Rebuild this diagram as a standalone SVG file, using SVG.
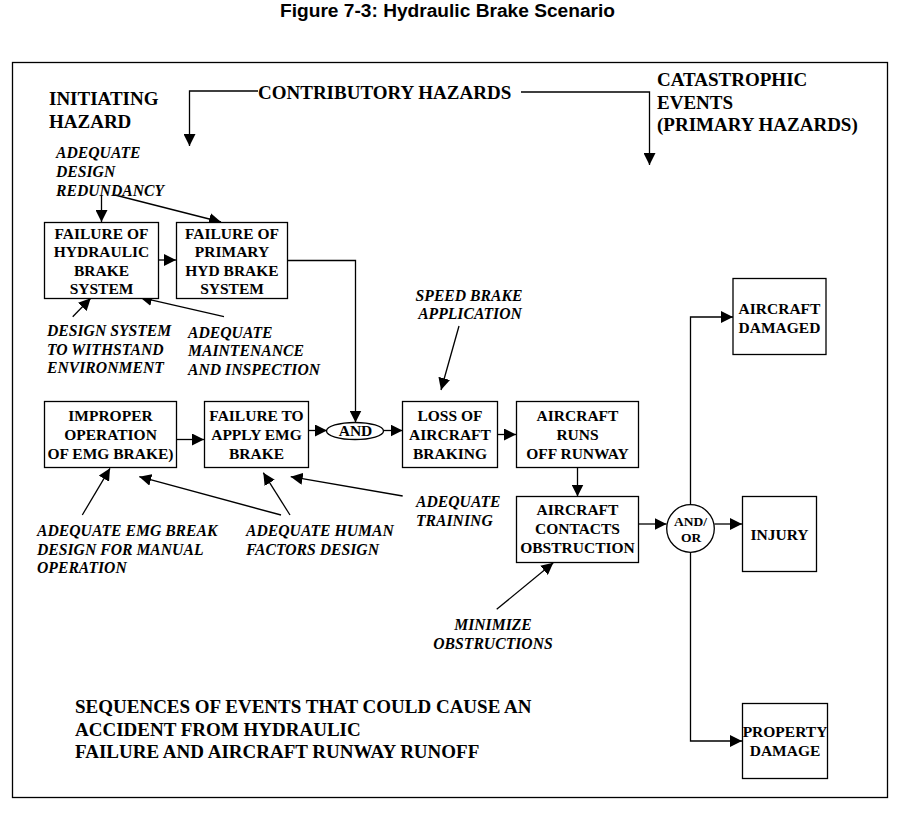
<svg xmlns="http://www.w3.org/2000/svg" width="908" height="814" viewBox="0 0 908 814">
<style>
.t{font-family:"Liberation Serif","Times New Roman",serif;font-weight:bold;fill:#000}
.b{font-size:15.5px;text-anchor:middle}
.h{font-size:19px}
.i{font-size:15.7px;font-style:italic}
.box{fill:#fff;stroke:#000;stroke-width:1.3}
.ln{fill:none;stroke:#000;stroke-width:1.3}
</style>
<defs>
<marker id="ah" markerUnits="userSpaceOnUse" markerWidth="12" markerHeight="12" refX="12" refY="6" orient="auto">
<path d="M0,0 L12,6 L0,12 z" fill="#000"/>
</marker>
</defs>
<rect width="908" height="814" fill="#fff"/>
<text x="447.5" y="17" text-anchor="middle" font-family="'Liberation Sans',Arial,sans-serif" font-weight="bold" font-size="17.5" textLength="335" lengthAdjust="spacingAndGlyphs">Figure 7-3: Hydraulic Brake Scenario</text>
<rect x="12.5" y="62.5" width="875" height="735" class="ln"/>

<g id="headings" class="t h">
<text x="49" y="105">INITIATING</text>
<text x="49" y="127.5">HAZARD</text>
<text x="258" y="99">CONTRIBUTORY HAZARDS</text>
<text x="657" y="86">CATASTROPHIC</text>
<text x="657" y="108.5">EVENTS</text>
<text x="657" y="131">(PRIMARY HAZARDS)</text>
<text x="75" y="713">SEQUENCES OF EVENTS THAT COULD CAUSE AN</text>
<text x="75" y="735.5">ACCIDENT FROM HYDRAULIC</text>
<text x="75" y="758">FAILURE AND AIRCRAFT RUNWAY RUNOFF</text>
</g>

<g id="labels" class="t i">
<text x="56" y="158">ADEQUATE</text>
<text x="56" y="177">DESIGN</text>
<text x="56" y="196">REDUNDANCY</text>
<text x="47" y="336">DESIGN SYSTEM</text>
<text x="47" y="354.5">TO WITHSTAND</text>
<text x="47" y="373">ENVIRONMENT</text>
<text x="188" y="337.5">ADEQUATE</text>
<text x="188" y="356">MAINTENANCE</text>
<text x="188" y="374.5">AND INSPECTION</text>
<text x="469" y="300.5" text-anchor="middle">SPEED BRAKE</text>
<text x="470" y="319" text-anchor="middle">APPLICATION</text>
<text x="37" y="536">ADEQUATE EMG BREAK</text>
<text x="37" y="554.5">DESIGN FOR MANUAL</text>
<text x="37" y="573">OPERATION</text>
<text x="246" y="536">ADEQUATE HUMAN</text>
<text x="246" y="554.5">FACTORS DESIGN</text>
<text x="416" y="507">ADEQUATE</text>
<text x="416" y="525.5">TRAINING</text>
<text x="493" y="630" text-anchor="middle">MINIMIZE</text>
<text x="493" y="648.5" text-anchor="middle">OBSTRUCTIONS</text>
</g>

<g id="connectors" class="ln">
<path d="M258,91 H189.5 V146" marker-end="url(#ah)"/>
<path d="M521,92 H649.5 V165" marker-end="url(#ah)"/>
<path d="M101.5,195 V222" marker-end="url(#ah)"/>
<path d="M115,195 L221,222" marker-end="url(#ah)"/>
<path d="M158,260 H176" marker-end="url(#ah)"/>
<path d="M72.7,316.7 L90.7,298.3" marker-end="url(#ah)"/>
<path d="M224,316.7 L140,297.3" marker-end="url(#ah)"/>
<path d="M287,260.5 H355.5 V422.5" marker-end="url(#ah)"/>
<path d="M459,326 L441,390" marker-end="url(#ah)"/>
<path d="M177,439.5 H204" marker-end="url(#ah)"/>
<path d="M308,430.5 H327" marker-end="url(#ah)"/>
<path d="M383.5,430.5 H402.5" marker-end="url(#ah)"/>
<path d="M497,434.5 H516" marker-end="url(#ah)"/>
<path d="M577.5,467 V496.5" marker-end="url(#ah)"/>
<path d="M82.3,515 L110,468.3" marker-end="url(#ah)"/>
<path d="M281,515 L139.3,476.7" marker-end="url(#ah)"/>
<path d="M290,515 L263.3,472.7" marker-end="url(#ah)"/>
<path d="M402.7,496 L290.7,476.7" marker-end="url(#ah)"/>
<path d="M496.7,609.3 L553.3,562.7" marker-end="url(#ah)"/>
<path d="M638,524 H666.5" marker-end="url(#ah)"/>
<path d="M714.5,524 H742" marker-end="url(#ah)"/>
<path d="M690.5,505 V317 H733" marker-end="url(#ah)"/>
<path d="M690.5,552.5 V741 H742" marker-end="url(#ah)"/>
</g>

<g id="n-hyd" class="t b">
<rect class="box" x="44.5" y="222.5" width="114" height="76"/>
<text x="101.5" y="238.5">FAILURE OF</text>
<text x="101.5" y="257">HYDRAULIC</text>
<text x="101.5" y="275.5">BRAKE</text>
<text x="101.5" y="294">SYSTEM</text>
</g>
<g id="n-primary" class="t b">
<rect class="box" x="176.5" y="222.5" width="111" height="76"/>
<text x="232" y="238.5">FAILURE OF</text>
<text x="232" y="257">PRIMARY</text>
<text x="232" y="275.5">HYD BRAKE</text>
<text x="232" y="294">SYSTEM</text>
</g>
<g id="n-improper" class="t b">
<rect class="box" x="44.5" y="401.5" width="132" height="66"/>
<text x="110.5" y="421">IMPROPER</text>
<text x="110.5" y="440">OPERATION</text>
<text x="110.5" y="458.5">OF EMG BRAKE)</text>
</g>
<g id="n-failapply" class="t b">
<rect class="box" x="204.5" y="401.5" width="104" height="66"/>
<text x="256.5" y="421">FAILURE TO</text>
<text x="256.5" y="440">APPLY EMG</text>
<text x="256.5" y="458.5">BRAKE</text>
</g>
<g id="n-and" class="t b">
<ellipse class="box" cx="355" cy="431" rx="28.5" ry="8.5"/>
<text x="355.5" y="436">AND</text>
</g>
<g id="n-loss" class="t b">
<rect class="box" x="402.5" y="401.5" width="95" height="66"/>
<text x="450" y="421">LOSS OF</text>
<text x="450" y="440">AIRCRAFT</text>
<text x="450" y="458.5">BRAKING</text>
</g>
<g id="n-runs" class="t b">
<rect class="box" x="516.5" y="401.5" width="122" height="66"/>
<text x="577.5" y="421">AIRCRAFT</text>
<text x="577.5" y="440">RUNS</text>
<text x="577.5" y="458.5">OFF RUNWAY</text>
</g>
<g id="n-contacts" class="t b">
<rect class="box" x="516.5" y="496.5" width="122" height="66"/>
<text x="577.5" y="515">AIRCRAFT</text>
<text x="577.5" y="534">CONTACTS</text>
<text x="577.5" y="553">OBSTRUCTION</text>
</g>
<g id="n-andor" class="t b">
<circle class="box" cx="690.5" cy="528.5" r="23.8"/>
<text x="690.5" y="525.5" font-size="13.5">AND/</text>
<text x="691" y="541.5" font-size="13.5">OR</text>
</g>
<g id="n-damaged" class="t b">
<rect class="box" x="733" y="278.5" width="93" height="76"/>
<text x="779.5" y="313.5">AIRCRAFT</text>
<text x="779.5" y="332.5">DAMAGED</text>
</g>
<g id="n-injury" class="t b">
<rect class="box" x="742.5" y="496.5" width="74" height="75"/>
<text x="779.5" y="539.5">INJURY</text>
</g>
<g id="n-property" class="t b">
<rect class="box" x="742.5" y="703.5" width="85" height="75"/>
<text x="785" y="737">PROPERTY</text>
<text x="785" y="756">DAMAGE</text>
</g>
</svg>
